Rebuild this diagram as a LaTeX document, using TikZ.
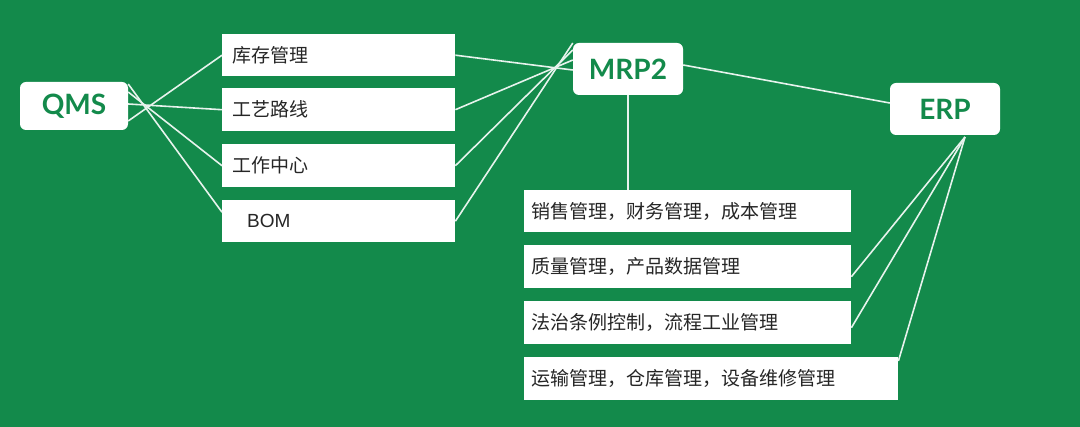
\documentclass[tikz,border=0pt]{standalone}
\usepackage{fontspec}
\setmainfont{Lato}
\newfontfamily\cjk{Noto Sans CJK SC}
\definecolor{bg}{HTML}{138A4B}
\begin{document}
\begin{tikzpicture}[x=1pt,y=-1pt,
  big/.style={fill=white,rounded corners=6pt,text=bg,font=\fontsize{28}{30}\selectfont\bfseries,inner sep=0pt},
  item/.style={fill=white,inner sep=0pt,font=\cjk\fontsize{19}{22}\selectfont,text=black!85,anchor=north west},
  ln/.style={draw=white!90!bg,line width=1.6pt}]
\fill[bg] (0,0) rectangle (1080,427);
\useasboundingbox (0,0) rectangle (1080,427);
\node[big,minimum width=108pt,minimum height=48pt] (qms) at (74,106) {QMS};
\node[big,minimum width=110pt,minimum height=52pt] (mrp) at (628,69) {MRP2};
\node[big,minimum width=110pt,minimum height=52pt] (erp) at (945,109) {ERP};
\node[item,minimum width=233pt,minimum height=42pt,text width=213pt,align=left] (a) at (222,34) {库存管理};
\node[item,minimum width=233pt,minimum height=43pt,text width=213pt,align=left] (b) at (222,88) {工艺路线};
\node[item,minimum width=233pt,minimum height=43pt,text width=213pt,align=left] (c) at (222,144) {工作中心};
\node[item,minimum width=233pt,minimum height=42pt,text width=203pt,align=left] (d) at (222,200) {\fontspec{Liberation Sans}\fontsize{19}{22}\selectfont\hspace*{10pt}BOM};
\node[item,minimum width=327pt,minimum height=42pt,text width=313pt,align=left] (e) at (524,190) {销售管理，财务管理，成本管理};
\node[item,minimum width=327pt,minimum height=43pt,text width=313pt,align=left] (f) at (524,245) {质量管理，产品数据管理};
\node[item,minimum width=327pt,minimum height=43pt,text width=313pt,align=left] (g) at (524,301) {法治条例控制，流程工业管理};
\node[item,minimum width=374pt,minimum height=43pt,text width=360pt,align=left] (h) at (524,357) {运输管理，仓库管理，设备维修管理};
\draw[ln] ([yshift=-15pt]qms.east) -- (a.west);
\draw[ln] ([yshift=2pt]qms.east) -- (b.west);
\draw[ln] ([yshift=14pt]qms.east) -- (c.west);
\draw[ln] ([yshift=22pt]qms.east) -- ([yshift=9pt]d.west);
\draw[ln] (a.east) -- ([yshift=-1pt]mrp.west);
\draw[ln] (b.east) -- ([yshift=9pt]mrp.west);
\draw[ln] (c.east) -- ([yshift=19pt]mrp.west);
\draw[ln] (d.east) -- ([yshift=26pt]mrp.west);
\draw[ln] (mrp.south) -- (mrp.south |- e.north);
\draw[ln] ([yshift=4pt]mrp.east) -- ([yshift=6pt]erp.west);
\coordinate (eb) at (965,137);
\draw[ln] (eb) -- ([yshift=-10pt]f.east);
\draw[ln] (eb) -- ([yshift=-5pt]g.east);
\draw[ln] (eb) -- ([yshift=-4pt]h.north east);
\end{tikzpicture}
\end{document}
